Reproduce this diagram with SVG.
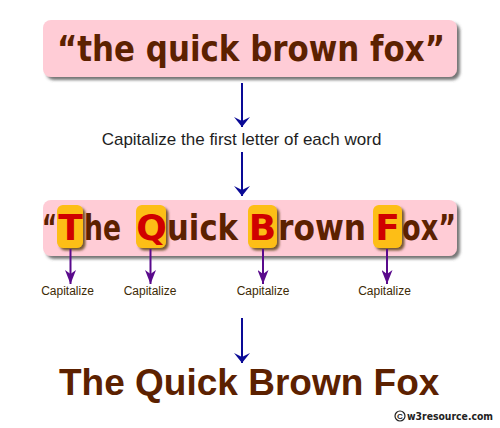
<svg xmlns="http://www.w3.org/2000/svg" width="500" height="428" viewBox="0 0 500 428">
<style>
.big{font-family:"DejaVu Sans",Verdana,sans-serif;font-weight:bold;fill:#5c2100}
.cap{font-family:"DejaVu Sans",Verdana,sans-serif;font-weight:bold;fill:#d00000;font-size:36px}
.lbl{font-family:"Liberation Sans",Arial,sans-serif;fill:#3d2a05;font-size:12px}
.note{font-family:"Liberation Sans",Arial,sans-serif;fill:#1e1e1e;font-size:17px}
.res{font-family:"Liberation Sans",Arial,sans-serif;font-weight:bold;fill:#5c2100;font-size:37px}
.pink{fill:#ffccd6}
.hl{fill:#fdbe14}
.blue{stroke:#0a0a96;stroke-width:2;fill:none}
.purp{stroke:#5a0a8c;stroke-width:2;fill:none}
</style>
<defs>
<filter id="sh" x="-10%" y="-20%" width="125%" height="150%">
<feDropShadow dx="3" dy="3" stdDeviation="1.6" flood-color="#555" flood-opacity="0.8"/>
</filter>
<filter id="sh2" x="-30%" y="-20%" width="170%" height="150%">
<feDropShadow dx="2.5" dy="2.5" stdDeviation="1.2" flood-color="#4a3000" flood-opacity="0.75"/>
</filter>
<marker id="ab" viewBox="0 0 10 16" refX="10" refY="8" markerWidth="10" markerHeight="16" markerUnits="userSpaceOnUse" orient="auto">
<path d="M0,0 L10,8 L0,16 L4,8 Z" fill="#0a0a96"/>
</marker>
<marker id="ap" viewBox="0 0 14 11" refX="14" refY="5.5" markerWidth="14" markerHeight="11" markerUnits="userSpaceOnUse" orient="auto">
<path d="M0,0 L14,5.5 L0,11 L4,5.5 Z" fill="#5a0a8c"/>
</marker>
</defs>

<g id="input">
<rect class="pink" x="43" y="20" width="414" height="57" rx="8" filter="url(#sh)"/>
<text class="big" x="57" y="61" font-size="36" textLength="388" lengthAdjust="spacingAndGlyphs">“the quick brown fox”</text>
</g>

<g id="step-label">
<text class="note" x="241.5" y="145" text-anchor="middle">Capitalize the first letter of each word</text>
</g>

<g id="capitalized">
<rect class="pink" x="43" y="200" width="414" height="56" rx="8" filter="url(#sh)"/>
<rect class="hl" x="57" y="205" width="26" height="43" rx="6" filter="url(#sh2)"/>
<rect class="hl" x="136" y="205" width="30" height="43" rx="6" filter="url(#sh2)"/>
<rect class="hl" x="248" y="205" width="29" height="43" rx="6" filter="url(#sh2)"/>
<rect class="hl" x="373" y="205" width="29" height="43" rx="6" filter="url(#sh2)"/>
<text class="big" font-size="35" y="240">
<tspan x="42" textLength="15" lengthAdjust="spacingAndGlyphs">“</tspan><tspan x="84" textLength="37" lengthAdjust="spacingAndGlyphs">he</tspan><tspan x="167" textLength="71" lengthAdjust="spacingAndGlyphs">uick</tspan><tspan x="278" textLength="88" lengthAdjust="spacingAndGlyphs">rown</tspan><tspan x="402" textLength="54" lengthAdjust="spacingAndGlyphs">ox”</tspan>
</text>
<text class="cap" y="240" text-anchor="middle"><tspan x="70.5">T</tspan><tspan x="151.5">Q</tspan><tspan x="262.5">B</tspan><tspan x="387.5">F</tspan></text>
</g>

<g id="labels">
<text class="lbl" x="67.5" y="295" text-anchor="middle">Capitalize</text>
<text class="lbl" x="150" y="295" text-anchor="middle">Capitalize</text>
<text class="lbl" x="263" y="295" text-anchor="middle">Capitalize</text>
<text class="lbl" x="384.5" y="295" text-anchor="middle">Capitalize</text>
</g>

<g id="result">
<text class="res" x="59" y="395">The Quick Brown Fox</text>
</g>

<g id="connectors">
<line class="blue" x1="242" y1="83" x2="242" y2="127" marker-end="url(#ab)"/>
<line class="blue" x1="242" y1="152" x2="242" y2="196" marker-end="url(#ab)"/>
<line class="blue" x1="242" y1="318" x2="242" y2="363" marker-end="url(#ab)"/>
<line class="purp" x1="70.5" y1="249" x2="70.5" y2="284" marker-end="url(#ap)"/>
<line class="purp" x1="150.5" y1="249" x2="150.5" y2="284" marker-end="url(#ap)"/>
<line class="purp" x1="263" y1="249" x2="263" y2="284" marker-end="url(#ap)"/>
<line class="purp" x1="387" y1="249" x2="387" y2="284" marker-end="url(#ap)"/>
</g>

<g id="watermark">
<circle cx="400" cy="416" r="5" fill="none" stroke="#222" stroke-width="1.2"/>
<text x="400" y="419" text-anchor="middle" font-family="Liberation Sans,Arial,sans-serif" font-size="8" font-weight="bold" fill="#222">C</text>
<text x="407" y="420" font-family="DejaVu Sans,Verdana,sans-serif" font-size="11" font-weight="bold" fill="#222" textLength="86" lengthAdjust="spacingAndGlyphs">w3resource.com</text>
</g>
</svg>
